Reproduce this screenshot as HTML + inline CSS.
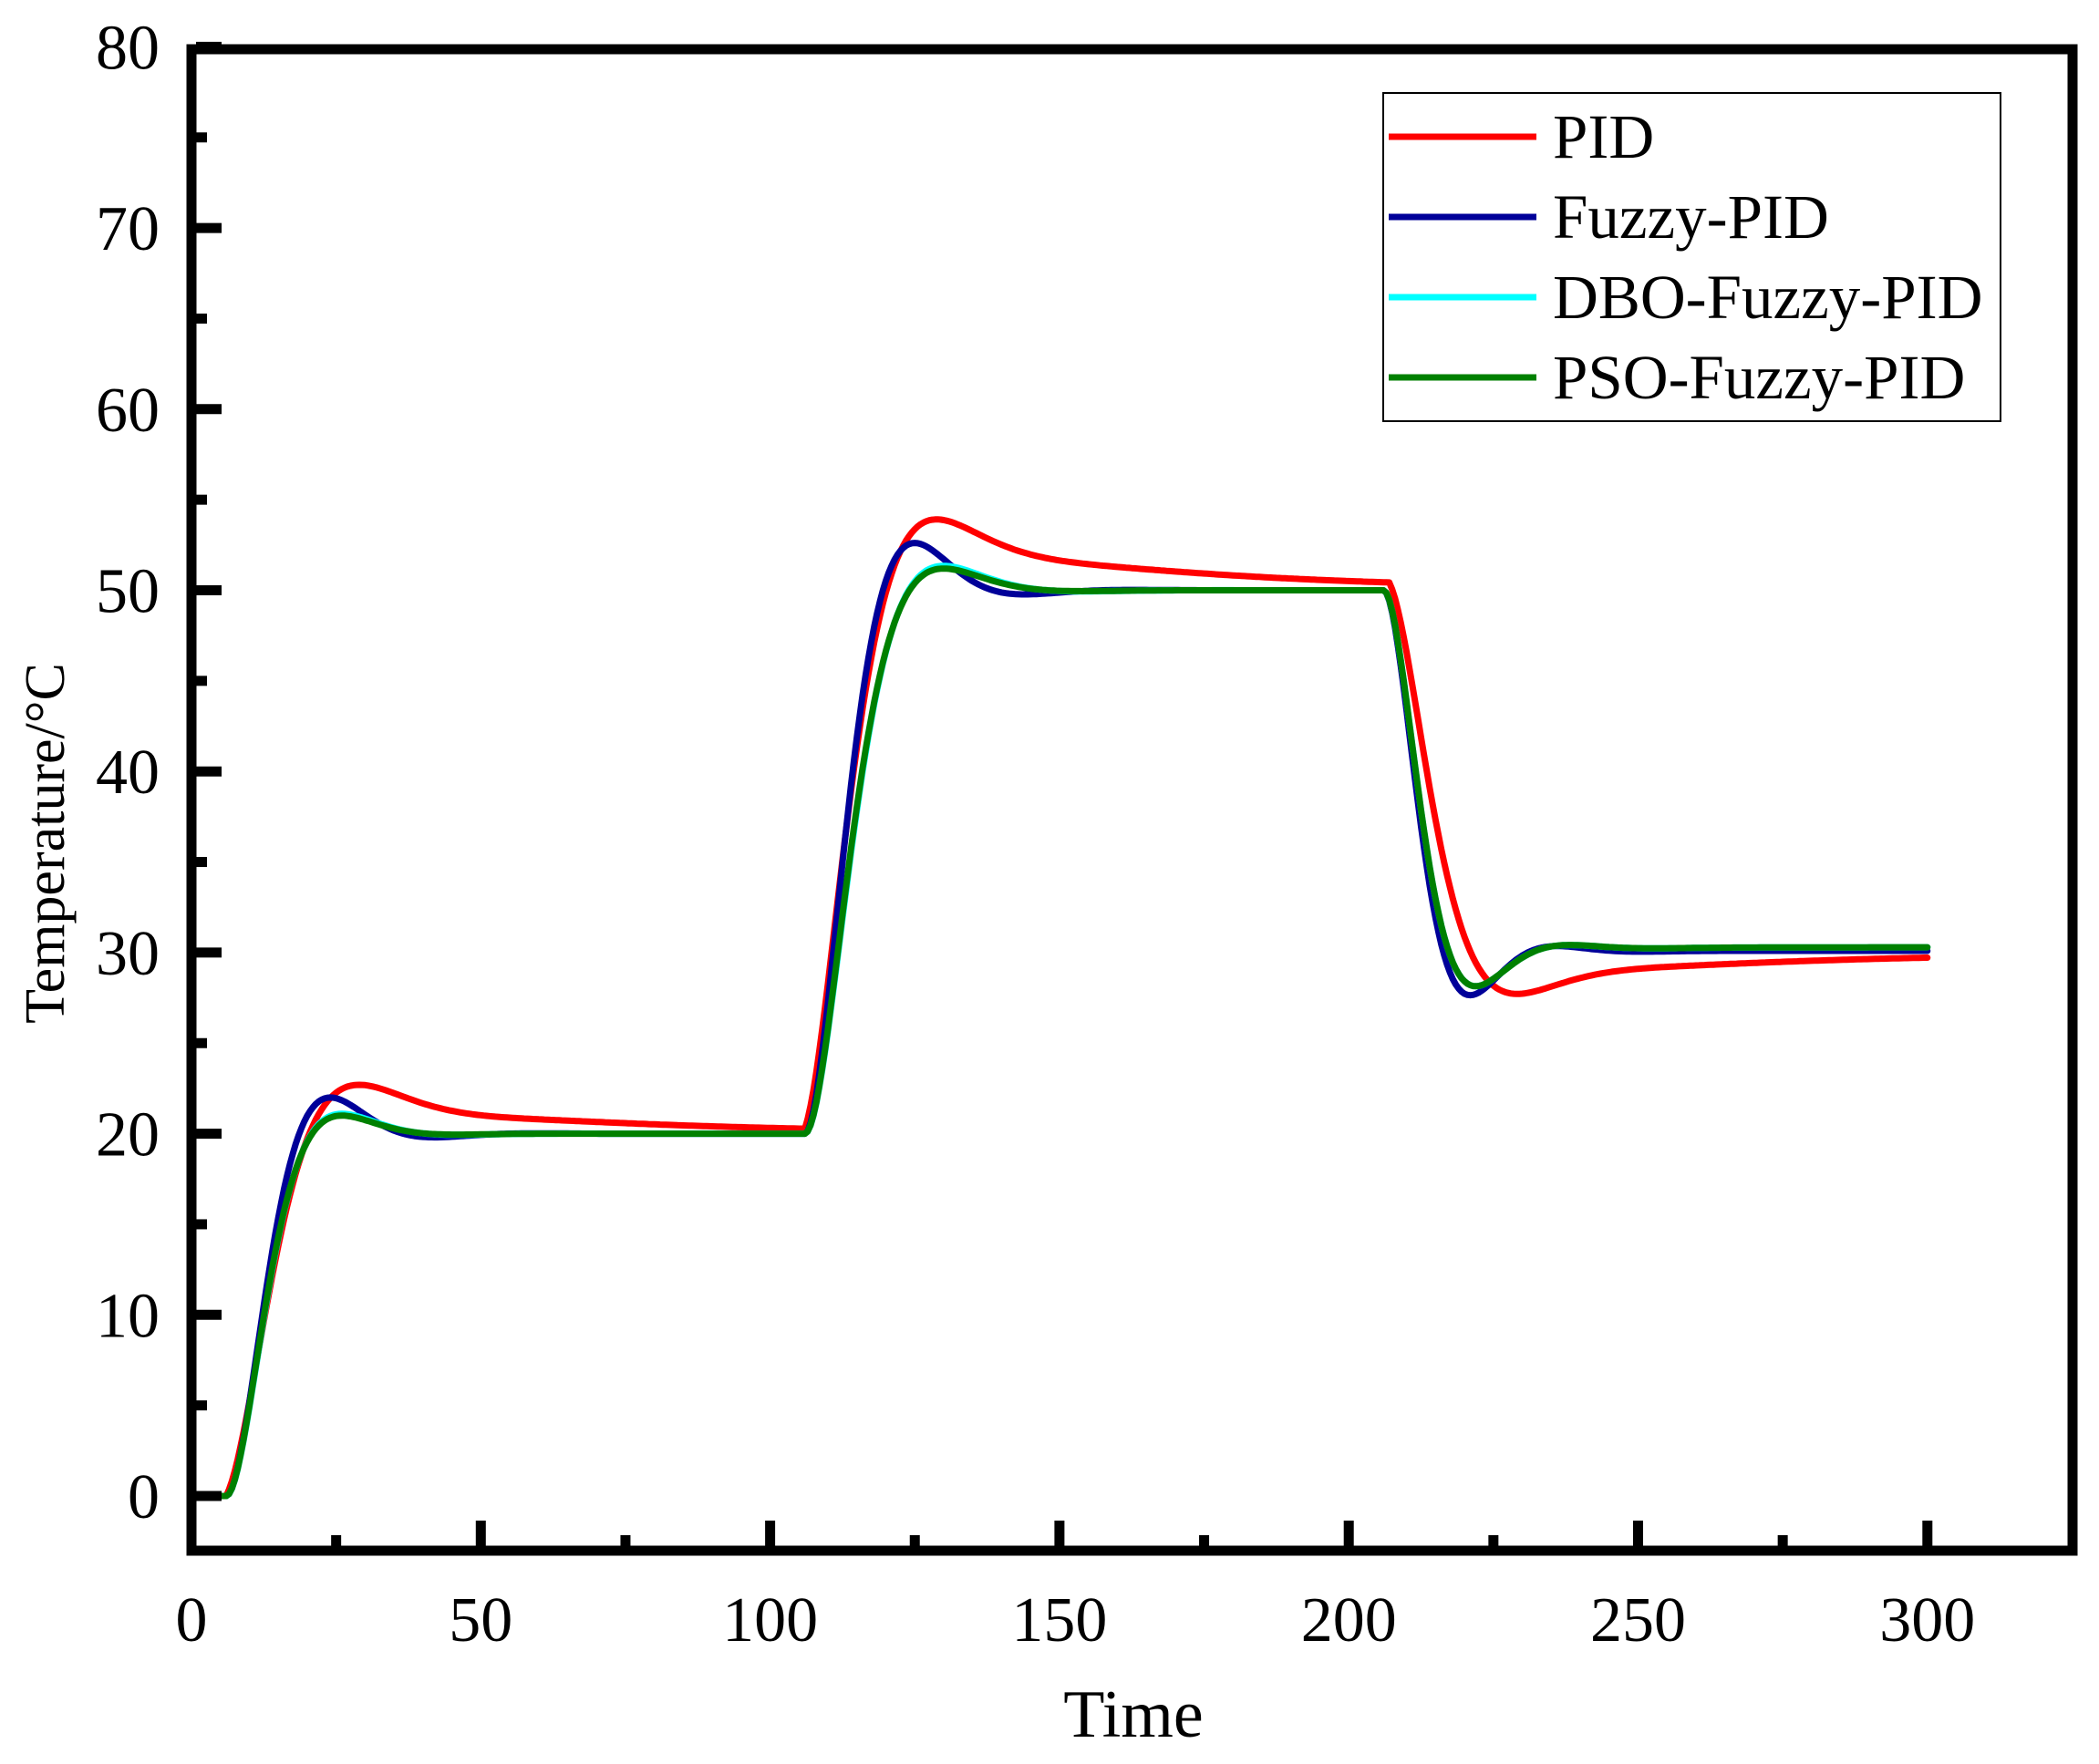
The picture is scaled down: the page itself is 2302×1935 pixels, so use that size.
<!DOCTYPE html>
<html><head><meta charset="utf-8"><style>
html,body{margin:0;padding:0;background:#fff;}
svg{display:block;}
text{font-family:"Liberation Serif",serif;fill:#000;}
</style></head><body>
<svg id="s" width="2302" height="1935" viewBox="0 0 2302 1935" xmlns="http://www.w3.org/2000/svg">
<rect x="0" y="0" width="2302" height="1935" fill="#fff"/>
<g id="curves" fill="none" stroke-linejoin="round" stroke-linecap="round"></g>
<rect x="210" y="54" width="2063" height="1647" fill="none" stroke="#000" stroke-width="11"/>
<g id="ticks" stroke="#000"></g>
<g id="labels" font-size="70"></g>
<text x="1243" y="1905" font-size="74" text-anchor="middle">Time</text>
<text transform="translate(70,925) rotate(-90)" font-size="62" text-anchor="middle">Temperature/°C</text>
<rect x="1517" y="102" width="677" height="360" fill="#fff" stroke="#000" stroke-width="2"/>
<g stroke-width="7">
<line x1="1523" y1="150" x2="1685" y2="150" stroke="#ff0000"/>
<line x1="1523" y1="238" x2="1685" y2="238" stroke="#000099"/>
<line x1="1523" y1="326" x2="1685" y2="326" stroke="#00ffff"/>
<line x1="1523" y1="414" x2="1685" y2="414" stroke="#008000"/>
</g>
<g font-size="69">
<text x="1703" y="173">PID</text>
<text x="1703" y="261">Fuzzy-PID</text>
<text x="1703" y="349">DBO-Fuzzy-PID</text>
<text x="1703" y="437">PSO-Fuzzy-PID</text>
</g>
</svg>
<script>
var NS="http://www.w3.org/2000/svg";
var X=function(t){return 210+t*6.346;}, Y=function(v){return 1641-v*19.87;};
var tk=document.getElementById('ticks'), lb=document.getElementById('labels');
function ln(x1,y1,x2,y2,w){var l=document.createElementNS(NS,'line');l.setAttribute('x1',x1);l.setAttribute('y1',y1);l.setAttribute('x2',x2);l.setAttribute('y2',y2);l.setAttribute('stroke-width',w);tk.appendChild(l);}
function tx(x,y,s,a){var e=document.createElementNS(NS,'text');e.setAttribute('x',x);e.setAttribute('y',y);e.setAttribute('text-anchor',a);e.textContent=s;lb.appendChild(e);}
for(var v=0;v<=80;v+=5){var y=Y(v);var maj=v%10==0;ln(215,y,215+(maj?28:12),y,11);if(maj)tx(175,y+24,String(v),'end');}
for(var t=0;t<=300;t+=25){var x=X(t);var maj=t%50==0;ln(x,1696,x,1696-(maj?28:12),11);if(maj)tx(x,1800,String(t),'middle');}
function s2(t,Mp,tp){if(t<=0)return 0;var L=Math.log(Mp);var z=-L/Math.sqrt(Math.PI*Math.PI+L*L);var wd=Math.PI/tp;var wn=wd/Math.sqrt(1-z*z);return 1-Math.exp(-z*wn*t)*(Math.cos(wd*t)+z/Math.sqrt(1-z*z)*Math.sin(wd*t));}
function resp(segs,tail,off){var pts=[];for(var t=3;t<=300;t+=0.5){var v=0;for(var i=0;i<segs.length;i++){var g=segs[i];var r=t-g.t0;if(r>0){var s=s2(r,g.Mp,g.tp);if(tail)s+=tail.k*(1-Math.exp(-r/5))*Math.exp(-r/tail.tau);v+=g.d*s;}}if(off&&t>206)v+=off*(1-Math.exp(-(t-206)/25));pts.push(X(t).toFixed(1)+','+Y(v).toFixed(1));}return 'M'+pts.join('L');}
function add(d,c){var p=document.createElementNS(NS,'path');p.setAttribute('d',d);p.setAttribute('stroke',c);p.setAttribute('stroke-width','7');document.getElementById('curves').appendChild(p);}
add(resp([{t0:6,d:20,Mp:0.05,tp:24},{t0:106,d:30,Mp:0.04,tp:24},{t0:207,d:-20,Mp:0.04,tp:23}],{k:0.15,tau:42}),'#ff0000');
add(resp([{t0:6,d:20,Mp:0.1,tp:18},{t0:106,d:30,Mp:0.087,tp:19},{t0:206,d:-20,Mp:0.12,tp:15}],null,0.1),'#000099');
add(resp([{t0:6,d:20,Mp:0.055,tp:20},{t0:106,d:30,Mp:0.045,tp:24},{t0:206,d:-20,Mp:0.1,tp:16}],null,0.3),'#00ffff');
add(resp([{t0:6,d:20,Mp:0.05,tp:20},{t0:106,d:30,Mp:0.04,tp:24},{t0:206,d:-20,Mp:0.1,tp:16}],null,0.3),'#008000');
</script>
</body></html>
